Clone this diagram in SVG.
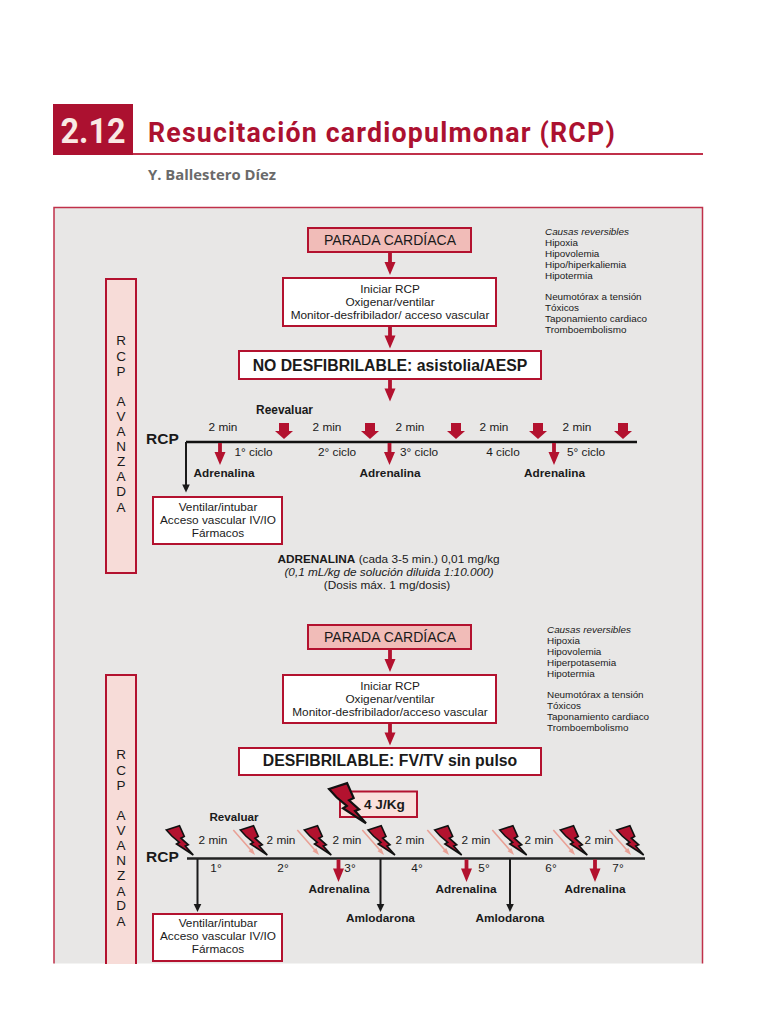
<svg xmlns="http://www.w3.org/2000/svg" width="768" height="1024" viewBox="0 0 768 1024">
<style>
text{font-family:"Liberation Sans",Arial,sans-serif;fill:#1a1a1a;font-size:11.8px}
.m{text-anchor:middle}
.b{font-weight:bold}
.s{font-size:9.9px}
.i{font-style:italic}
.w{fill:#fff;stroke:#b3122f;stroke-width:2}
.p{fill:#f1bcb8;stroke:#b3122f;stroke-width:2}
.sd{fill:#f7dcd8;stroke:#b3122f;stroke-width:2}
.side{font-size:13.5px;text-anchor:middle}
.k{stroke:#1a1a1a;stroke-width:2;fill:none}
.pk{stroke:#e9a196;stroke-width:1.6;fill:none}
.rf{fill:#b3122f}
.kf{fill:#1a1a1a}
.pf{fill:#e9a196}
.bolt{fill:#b3122f;stroke:#111;stroke-width:1.6;stroke-linejoin:miter}
</style>
<defs>
<path id="bolt" d="M-27-25L-13.800-29.300L-9-18.500L-12.400-16.800L-5-10.200L-8-9L0 0L-16.800-11L-14-12.700L-21.500-19Z"/>
<path id="ka" d="M-3.800 0H3.800L0 8Z"/>
<path id="pa" d="M0 0L-2.700-6.900L-6.500-3.700Z"/>
<path id="thin" d="M-1.900 0H1.900V9H5.500L0 22L-5.500 9H-1.900Z"/>
<path id="t2" d="M-1.900 0H1.900V9H5.500L0 22.500L-5.500 9H-1.900Z"/>
</defs>
<rect width="768" height="1024" fill="#fff"/>
<g id="header">
<rect x="53" y="104" width="80" height="51" fill="#ac1130"/>
<rect x="133" y="153" width="570" height="2" fill="#c0304a"/>
<text x="60.500" y="143" textLength="65" lengthAdjust="spacingAndGlyphs" style="font-family:Roboto,sans-serif;font-weight:bold;font-size:35px;fill:#f9e9e4">2.12</text>
<text x="148" y="142" textLength="468" lengthAdjust="spacingAndGlyphs" style="font-family:Roboto,sans-serif;font-weight:bold;font-size:27px;fill:#ac1130;letter-spacing:1.2px">Resucitación cardiopulmonar (RCP)</text>
<text x="148" y="180" textLength="128" lengthAdjust="spacingAndGlyphs" style="font-family:'Open Sans',sans-serif;font-weight:bold;font-size:15px;fill:#6a6a6a">Y. Ballestero Díez</text>
</g>
<path id="panel" d="M54 963.500V207.500H702.500V963.500" fill="#e8e7e6" stroke="#c0304a" stroke-width="1.500"/>

<g id="connectors" class="rf">
<use href="#thin" x="390" y="253"/><use href="#thin" x="390" y="326.500"/><use href="#thin" x="390" y="379.500"/>
<use href="#thin" x="390" y="650"/><use href="#thin" x="390" y="723.500"/>
</g>

<g id="n-parada1"><rect class="p" x="308" y="228" width="163" height="24"/><text x="390" y="245" class="m" style="font-size:14px">PARADA CARDÍACA</text></g>
<g id="n-iniciar1"><rect class="w" x="283" y="278" width="213" height="48"/>
<text x="390" y="292.500" class="m">Iniciar RCP</text><text x="390" y="306" class="m">Oxigenar/ventilar</text><text x="390" y="319" class="m">Monitor-desfribilador/ acceso vascular</text></g>
<g id="n-nodes"><rect class="w" x="239" y="351" width="302" height="28"/><text x="390" y="371" class="m b" style="font-size:15.800px">NO DESFIBRILABLE: asistolia/AESP</text></g>
<g id="n-causas1">
<text x="545" y="235" class="s i">Causas reversibles</text><text x="545" y="246" class="s">Hipoxia</text><text x="545" y="257" class="s">Hipovolemia</text><text x="545" y="268" class="s">Hipo/hiperkaliemia</text><text x="545" y="279" class="s">Hipotermia</text>
<text x="545" y="300" class="s">Neumotórax a tensión</text><text x="545" y="311" class="s">Tóxicos</text><text x="545" y="322" class="s">Taponamiento cardiaco</text><text x="545" y="333" class="s">Tromboembolismo</text></g>
<g id="n-side1"><rect class="sd" x="106" y="279" width="30" height="294"/>
<text x="121" y="345" class="side">R</text><text x="121" y="361" class="side">C</text><text x="121" y="376" class="side">P</text><text x="121" y="406" class="side">A</text><text x="121" y="421" class="side">V</text><text x="121" y="436" class="side">A</text><text x="121" y="451" class="side">N</text><text x="121" y="466" class="side">Z</text><text x="121" y="481" class="side">A</text><text x="121" y="496" class="side">D</text><text x="121" y="512" class="side">A</text></g>

<g id="timeline1">
<text x="146" y="444" class="b" style="font-size:15.500px">RCP</text>
<text x="284.500" y="414" class="m b" style="font-size:11.900px">Reevaluar</text>
<path d="M186 442H637" stroke="#111" stroke-width="2.500" fill="none"/>
<path class="k" d="M186 442V485"/><use href="#ka" x="186" y="484.500" class="kf"/>
<g class="rf"><use href="#thin" x="220" y="443"/><use href="#thin" x="389.500" y="443"/><use href="#thin" x="554" y="443"/></g>
<g class="rf">
<path d="M279 423H289V431H293L284 439L275 431H279Z"/>
<path d="M365 423H375V431H379L370 439L361 431H365Z"/>
<path d="M451 423H461V431H465L456 439L447 431H451Z"/>
<path d="M533 423H543V431H547L538 439L529 431H533Z"/>
<path d="M618 423H628V431H632L623 439L614 431H618Z"/></g>
<text x="223" y="431" class="m">2 min</text><text x="327" y="431" class="m">2 min</text><text x="410" y="431" class="m">2 min</text><text x="494" y="431" class="m">2 min</text><text x="577" y="431" class="m">2 min</text>
<text x="253.500" y="456" class="m">1° ciclo</text><text x="337" y="456" class="m">2° ciclo</text><text x="419" y="456" class="m">3° ciclo</text><text x="503" y="456" class="m">4 ciclo</text><text x="586" y="456" class="m">5° ciclo</text>
<text x="224" y="477" class="m b">Adrenalina</text><text x="390" y="477" class="m b">Adrenalina</text><text x="554.500" y="477" class="m b">Adrenalina</text>
</g>
<g id="n-vent1"><rect class="w" x="153" y="497" width="129" height="47"/><text x="218" y="511" class="m">Ventilar/intubar</text><text x="218" y="524" class="m">Acceso vascular IV/IO</text><text x="218" y="537" class="m">Fármacos</text></g>
<g id="n-dose"><text x="388.500" y="563" class="m"><tspan class="b">ADRENALINA</tspan> (cada 3-5 min.) 0,01 mg/kg</text><text x="389" y="576" class="m i">(0,1 mL/kg de solución diluida 1:10.000)</text><text x="387" y="589" class="m">(Dosis máx. 1 mg/dosis)</text></g>

<g id="n-parada2"><rect class="p" x="308" y="625" width="163" height="24"/><text x="390" y="642" class="m" style="font-size:14px">PARADA CARDÍACA</text></g>
<g id="n-iniciar2"><rect class="w" x="283" y="675" width="213" height="48"/>
<text x="390" y="689.500" class="m">Iniciar RCP</text><text x="390" y="703" class="m">Oxigenar/ventilar</text><text x="390" y="716" class="m">Monitor-desfribilador/acceso vascular</text></g>
<g id="n-des"><rect class="w" x="239" y="748" width="302" height="27"/><text x="390" y="766" class="m b" style="font-size:15.800px">DESFIBRILABLE: FV/TV sin pulso</text></g>
<g id="n-causas2">
<text x="547" y="633" class="s i">Causas reversibles</text><text x="547" y="644" class="s">Hipoxia</text><text x="547" y="655" class="s">Hipovolemia</text><text x="547" y="666" class="s">Hiperpotasemia</text><text x="547" y="677" class="s">Hipotermia</text>
<text x="547" y="698" class="s">Neumotórax a tensión</text><text x="547" y="709" class="s">Tóxicos</text><text x="547" y="720" class="s">Taponamiento cardiaco</text><text x="547" y="731" class="s">Tromboembolismo</text></g>
<g id="n-side2"><rect class="sd" x="106" y="675" width="30" height="295"/>
<text x="121" y="759" class="side">R</text><text x="121" y="775" class="side">C</text><text x="121" y="790" class="side">P</text><text x="121" y="820" class="side">A</text><text x="121" y="835" class="side">V</text><text x="121" y="850" class="side">A</text><text x="121" y="865" class="side">N</text><text x="121" y="880" class="side">Z</text><text x="121" y="896" class="side">A</text><text x="121" y="910" class="side">D</text><text x="121" y="926" class="side">A</text></g>
<g id="n-jk"><rect x="340" y="791.500" width="77" height="25.500" fill="#f9e0dc" stroke="#b3122f" stroke-width="2"/><text x="364" y="809" class="b" style="font-size:13.600px">4 J/Kg</text></g>
<g id="bolt-main"><use href="#bolt" class="bolt" transform="translate(366 823.300) scale(1.370)"/></g>

<g id="timeline2">
<text x="146" y="862" class="b" style="font-size:15.500px">RCP</text>
<text x="234" y="821" class="m b" style="font-size:11.600px">Revaluar</text>
<path d="M187 858.500H645" stroke="#222" stroke-width="2.500" fill="none"/>
<g class="k"><path d="M197.500 859V905M380.500 859V905M510 859V905"/></g>
<g class="kf"><use href="#ka" x="197.500" y="904"/><use href="#ka" x="380.500" y="904"/><use href="#ka" x="510" y="904"/></g>
<g class="rf"><use href="#t2" x="338.500" y="859.500"/><use href="#t2" x="466.500" y="859.500"/><use href="#t2" x="595" y="859.500"/></g>
<g class="pk"><path d="M233.300 830L253 852.500M297.300 830L317 852.500M362.300 830L382 852.500M427.300 830L447 852.500M492.300 830L512 852.500M553.300 830L573 852.500M609.300 830L629 852.500"/></g>
<g class="pf"><use href="#pa" x="255" y="855"/><use href="#pa" x="319" y="855"/><use href="#pa" x="384" y="855"/><use href="#pa" x="449" y="855"/><use href="#pa" x="514" y="855"/><use href="#pa" x="575" y="855"/><use href="#pa" x="631" y="855"/></g>
<g class="bolt"><use href="#bolt" x="193.300" y="855"/><use href="#bolt" x="267.300" y="855"/><use href="#bolt" x="331.300" y="855"/><use href="#bolt" x="395" y="855"/><use href="#bolt" x="461.700" y="855"/><use href="#bolt" x="526.700" y="855"/><use href="#bolt" x="587.300" y="855"/><use href="#bolt" x="643.700" y="855"/></g>
<text x="213" y="844" class="m">2 min</text><text x="281" y="844" class="m">2 min</text><text x="347" y="844" class="m">2 min</text><text x="410" y="844" class="m">2 min</text><text x="476" y="844" class="m">2 min</text><text x="539" y="844" class="m">2 min</text><text x="599" y="844" class="m">2 min</text>
<text x="216" y="872" class="m">1°</text><text x="283" y="872" class="m">2°</text><text x="350" y="872" class="m">3°</text><text x="417" y="872" class="m">4°</text><text x="484" y="872" class="m">5°</text><text x="551" y="872" class="m">6°</text><text x="618" y="872" class="m">7°</text>
<text x="339" y="893" class="m b">Adrenalina</text><text x="466" y="893" class="m b">Adrenalina</text><text x="595" y="893" class="m b">Adrenalina</text>
<text x="380.500" y="922" class="m b">Amlodarona</text><text x="510" y="922" class="m b">Amlodarona</text>
</g>
<g id="n-vent2"><rect class="w" x="153" y="914" width="129" height="47"/><text x="218" y="927" class="m">Ventilar/intubar</text><text x="218" y="940" class="m">Acceso vascular IV/IO</text><text x="218" y="953" class="m">Fármacos</text></g>
<rect x="0" y="964" width="768" height="60" fill="#fff"/>
</svg>
